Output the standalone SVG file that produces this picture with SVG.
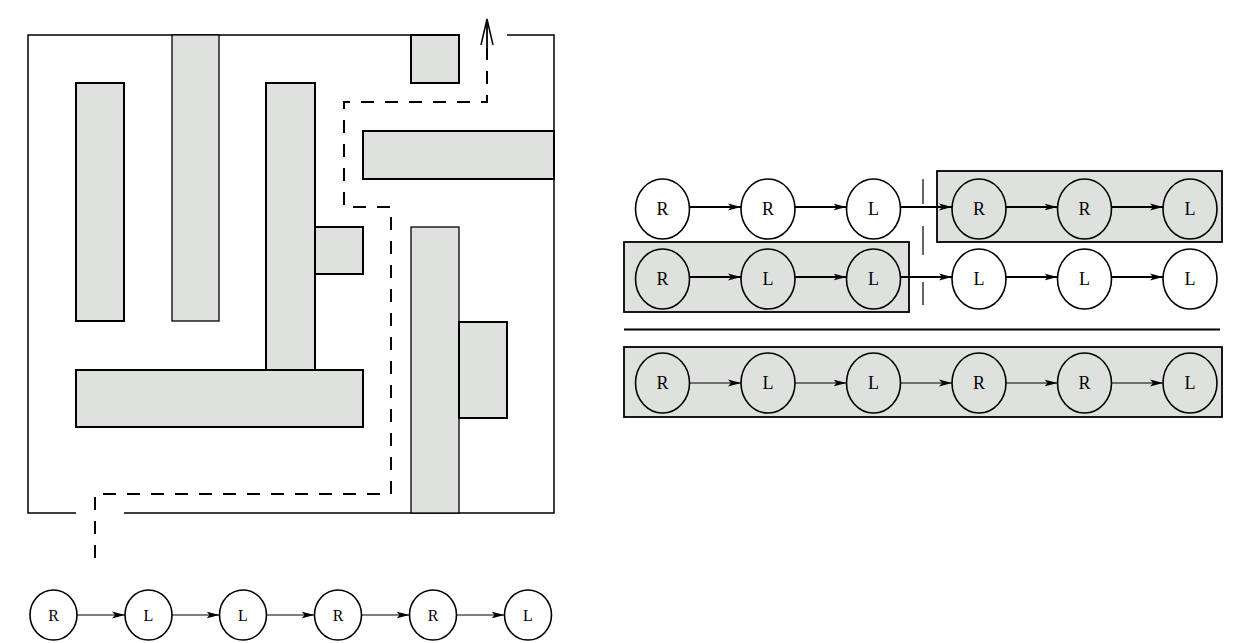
<svg xmlns="http://www.w3.org/2000/svg" width="1238" height="643" viewBox="0 0 1238 643">
<style>
.blk{fill:#dfe1df;stroke:#000;stroke-width:2}
.thin{stroke-width:1.3}
.wall{fill:none;stroke:#000;stroke-width:1.5}
.path{fill:none;stroke:#000;stroke-width:2;stroke-dasharray:13 11}
.box{fill:#dfe1df;stroke:#000;stroke-width:1.8}
.wn{fill:#fff;stroke:#000;stroke-width:1.6}
.gn{fill:#dfe1df;stroke:#000;stroke-width:1.6}
.t{font-family:"Liberation Serif","Times New Roman",serif;font-size:18px;text-anchor:middle;fill:#000}
.ts{font-size:16px}
.a{stroke:#000;stroke-width:1.8;fill:none;marker-end:url(#ah)}
.a2{stroke:#000;stroke-width:1.2;fill:none;marker-end:url(#ah)}
.div{stroke:#000;stroke-width:1.2}
</style>
<defs>
<marker id="ah" markerUnits="userSpaceOnUse" markerWidth="14" markerHeight="8" refX="13" refY="4" orient="auto">
<path d="M0,0.5 L13,4 L0,7.5 L3,4 Z" fill="#000"/>
</marker>
</defs>
<rect width="1238" height="643" fill="#fff"/>

<g id="maze">
<path class="wall" d="M459,35 L28,35 L28,513 L76,513 M124,513 L554,513 L554,35 L507,35"/>
<rect class="blk" x="76" y="83" width="48" height="238"/>
<rect class="blk thin" x="172" y="35" width="47" height="286"/>
<rect class="blk" x="266" y="83" width="49" height="287"/>
<rect class="blk" x="315" y="227" width="48" height="47"/>
<rect class="blk" x="76" y="370" width="287" height="57"/>
<rect class="blk" x="411" y="35" width="48" height="48"/>
<rect class="blk" x="363" y="131" width="191" height="48"/>
<rect class="blk thin" x="411" y="227" width="48" height="286"/>
<rect class="blk" x="459" y="322" width="48" height="96"/>
</g>
<g id="maze-route">
<polyline class="path" points="95,558 95,494 391,494 391,207 344,207 344,102 487,102 487,48"/>
<line x1="487" y1="48" x2="487" y2="20" stroke="#000" stroke-width="1.8"/>
<polyline points="481,45 487,19 493,45" fill="none" stroke="#000" stroke-width="1.5"/>
</g>

<g id="chain-bottom">
<g id="b1"><ellipse class="wn" cx="53.5" cy="615" rx="23.5" ry="25"/><text class="t ts" x="53.5" y="621">R</text></g>
<g id="b2"><ellipse class="wn" cx="148.5" cy="615" rx="23.5" ry="25"/><text class="t ts" x="148.5" y="621">L</text></g>
<g id="b3"><ellipse class="wn" cx="243" cy="615" rx="23.5" ry="25"/><text class="t ts" x="243" y="621">L</text></g>
<g id="b4"><ellipse class="wn" cx="338" cy="615" rx="23.5" ry="25"/><text class="t ts" x="338" y="621">R</text></g>
<g id="b5"><ellipse class="wn" cx="433" cy="615" rx="23.5" ry="25"/><text class="t ts" x="433" y="621">R</text></g>
<g id="b6"><ellipse class="wn" cx="528" cy="615" rx="23.5" ry="25"/><text class="t ts" x="528" y="621">L</text></g>
</g>

<g id="boxes">
<rect id="box1" class="box" x="937" y="171" width="285" height="71"/>
<rect id="box2" class="box" x="624" y="242" width="285" height="70"/>
<line id="separator" x1="624" y1="329.5" x2="1220" y2="329.5" stroke="#000" stroke-width="2"/>
<rect id="box3" class="box" x="624" y="347" width="598" height="70"/>
<g id="cut" class="div">
<line x1="923" y1="179" x2="923" y2="204"/>
<line x1="923" y1="226" x2="923" y2="255"/>
<line x1="923" y1="282" x2="923" y2="305"/>
</g>
</g>

<g id="row1">
<g id="r1n1"><ellipse class="wn" cx="662.5" cy="209" rx="27" ry="30"/><text class="t" x="662.5" y="215">R</text></g>
<g id="r1n2"><ellipse class="wn" cx="768" cy="209" rx="27" ry="30"/><text class="t" x="768" y="215">R</text></g>
<g id="r1n3"><ellipse class="wn" cx="873.5" cy="209" rx="27" ry="30"/><text class="t" x="873.5" y="215">L</text></g>
<g id="r1n4"><ellipse class="gn" cx="979" cy="209" rx="27" ry="30"/><text class="t" x="979" y="215">R</text></g>
<g id="r1n5"><ellipse class="gn" cx="1084.5" cy="209" rx="27" ry="30"/><text class="t" x="1084.5" y="215">R</text></g>
<g id="r1n6"><ellipse class="gn" cx="1190" cy="209" rx="27" ry="30"/><text class="t" x="1190" y="215">L</text></g>
</g>
<g id="row2">
<g id="r2n1"><ellipse class="gn" cx="662.5" cy="279" rx="27" ry="30"/><text class="t" x="662.5" y="285">R</text></g>
<g id="r2n2"><ellipse class="gn" cx="768" cy="279" rx="27" ry="30"/><text class="t" x="768" y="285">L</text></g>
<g id="r2n3"><ellipse class="gn" cx="873.5" cy="279" rx="27" ry="30"/><text class="t" x="873.5" y="285">L</text></g>
<g id="r2n4"><ellipse class="wn" cx="979" cy="279" rx="27" ry="30"/><text class="t" x="979" y="285">L</text></g>
<g id="r2n5"><ellipse class="wn" cx="1084.5" cy="279" rx="27" ry="30"/><text class="t" x="1084.5" y="285">L</text></g>
<g id="r2n6"><ellipse class="wn" cx="1190" cy="279" rx="27" ry="30"/><text class="t" x="1190" y="285">L</text></g>
</g>
<g id="row3">
<g id="r3n1"><ellipse class="gn" cx="662.5" cy="383" rx="27" ry="30"/><text class="t" x="662.5" y="389">R</text></g>
<g id="r3n2"><ellipse class="gn" cx="768" cy="383" rx="27" ry="30"/><text class="t" x="768" y="389">L</text></g>
<g id="r3n3"><ellipse class="gn" cx="873.5" cy="383" rx="27" ry="30"/><text class="t" x="873.5" y="389">L</text></g>
<g id="r3n4"><ellipse class="gn" cx="979" cy="383" rx="27" ry="30"/><text class="t" x="979" y="389">R</text></g>
<g id="r3n5"><ellipse class="gn" cx="1084.5" cy="383" rx="27" ry="30"/><text class="t" x="1084.5" y="389">R</text></g>
<g id="r3n6"><ellipse class="gn" cx="1190" cy="383" rx="27" ry="30"/><text class="t" x="1190" y="389">L</text></g>
</g>

<g id="connectors">
<line class="a2" x1="77" y1="615" x2="125" y2="615"/>
<line class="a2" x1="172" y1="615" x2="219.5" y2="615"/>
<line class="a2" x1="266.5" y1="615" x2="314.5" y2="615"/>
<line class="a2" x1="361.5" y1="615" x2="409.5" y2="615"/>
<line class="a2" x1="456.5" y1="615" x2="504.5" y2="615"/>

<line class="a" x1="689.5" y1="207" x2="741" y2="207"/>
<line class="a" x1="795" y1="207" x2="846.5" y2="207"/>
<line class="a" x1="900.5" y1="207" x2="952" y2="207"/>
<line class="a" x1="1006" y1="207" x2="1057.5" y2="207"/>
<line class="a" x1="1111.5" y1="207" x2="1163" y2="207"/>

<line class="a" x1="689.5" y1="277" x2="741" y2="277"/>
<line class="a" x1="795" y1="277" x2="846.5" y2="277"/>
<line class="a" x1="900.5" y1="277" x2="952" y2="277"/>
<line class="a" x1="1006" y1="277" x2="1057.5" y2="277"/>
<line class="a" x1="1111.5" y1="277" x2="1163" y2="277"/>

<line class="a2" x1="689.5" y1="383" x2="741" y2="383"/>
<line class="a2" x1="795" y1="383" x2="846.5" y2="383"/>
<line class="a2" x1="900.5" y1="383" x2="952" y2="383"/>
<line class="a2" x1="1006" y1="383" x2="1057.5" y2="383"/>
<line class="a2" x1="1111.5" y1="383" x2="1163" y2="383"/>
</g>
</svg>
